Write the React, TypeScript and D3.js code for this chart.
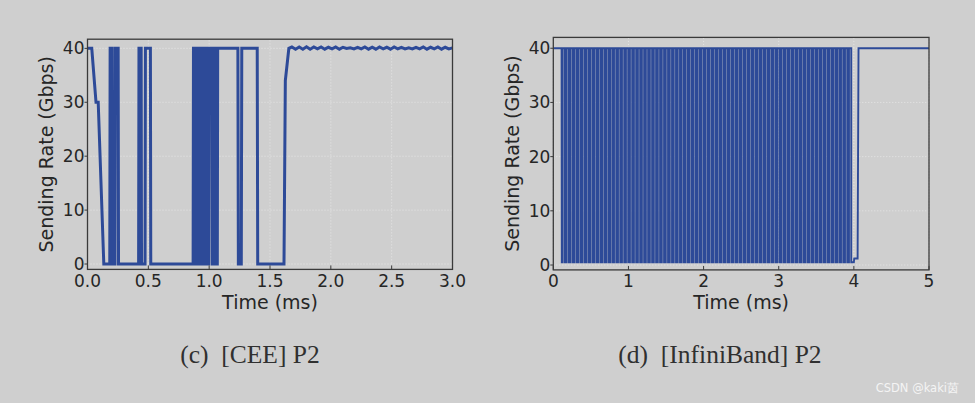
import * as d3 from 'd3';

// (c) CEE P2 — time (ms), sending rate (Gbps)
const ceePoints: [number, number][] = [
  [0, 40], [0.035, 40], [0.07, 30], [0.088, 30], [0.134, 0], [0.183, 0],
  [0.186, 40], [0.203, 40], [0.206, 0], [0.226, 0], [0.229, 40], [0.252, 40], [0.255, 0],
  [0.42, 0], [0.423, 40], [0.441, 40], [0.444, 0], [0.473, 0], [0.476, 40], [0.517, 40], [0.52, 0],
  [0.868, 0], [0.871, 40], [0.876, 40], [0.879, 0], [0.884, 0], [0.887, 40], [0.892, 40], [0.895, 0],
  [0.9, 0], [0.903, 40], [0.908, 40], [0.911, 0], [0.916, 0], [0.919, 40], [0.924, 40], [0.927, 0],
  [0.932, 0], [0.935, 40], [0.94, 40], [0.943, 0], [0.948, 0], [0.951, 40], [0.956, 40], [0.959, 0],
  [0.964, 0], [0.967, 40], [0.972, 40], [0.975, 0], [0.98, 0], [0.983, 40], [0.988, 40], [0.991, 0],
  [0.996, 0], [0.999, 40], [1.022, 40], [1.025, 0], [1.037, 0], [1.04, 40], [1.058, 40], [1.061, 0],
  [1.067, 0], [1.07, 40], [1.236, 40], [1.24, 0], [1.264, 0], [1.268, 40], [1.395, 40], [1.399, 0],
  [1.615, 0], [1.626, 34], [1.655, 40],
  [1.68, 40.25], [1.71, 39.85], [1.74, 40.25], [1.77, 39.85], [1.8, 40.3], [1.83, 39.85], [1.86, 40.25],
  [1.89, 39.9], [1.92, 40.25], [1.95, 39.85], [1.98, 40.2], [2.01, 39.9], [2.04, 40.25], [2.07, 39.85],
  [2.1, 40.2], [2.13, 40.0], [2.16, 40.1], [2.19, 39.9], [2.22, 40.2], [2.25, 39.9], [2.28, 40.25],
  [2.31, 39.85], [2.34, 40.2], [2.37, 39.85], [2.4, 40.25], [2.43, 39.9], [2.46, 40.2], [2.49, 39.85],
  [2.52, 40.25], [2.55, 39.9], [2.58, 40.2], [2.61, 39.9], [2.64, 40.1], [2.67, 39.9], [2.7, 40.2],
  [2.73, 39.9], [2.76, 40.25], [2.79, 39.85], [2.82, 40.2], [2.85, 39.9], [2.88, 40.25], [2.91, 39.85],
  [2.94, 40.2], [2.97, 39.9], [3.0, 40.1],
];

// (d) InfiniBand P2
const ibHead: [number, number][] = [[0, 40], [0.11, 40], [0.113, 0.5]];
const ibPulseStarts = [
  0.12, 0.172, 0.225, 0.279, 0.331, 0.384, 0.437, 0.49, 0.543, 0.596, 0.649, 0.702, 0.755,
  0.808, 0.861, 0.914, 0.967, 1.02, 1.073, 1.126, 1.179, 1.232, 1.285, 1.338, 1.391, 1.444,
  1.497, 1.55, 1.603, 1.656, 1.709, 1.762, 1.815, 1.868, 1.921, 1.974, 2.027, 2.08, 2.133,
  2.186, 2.239, 2.292, 2.345, 2.398, 2.451, 2.504, 2.557, 2.61, 2.663, 2.716, 2.769, 2.822,
  2.875, 2.928, 2.981, 3.034, 3.087, 3.14, 3.193, 3.246, 3.299, 3.352, 3.405, 3.458, 3.511,
  3.564, 3.617, 3.67, 3.723, 3.776, 3.829, 3.882, 3.935,
];
const ibPulseOn = 0.03;
const ibPulseHigh = 40;
const ibPulseLow = 0.5;
const ibTail: [number, number][] = [[4.0, 0.5], [4.005, 1.2], [4.05, 1.2], [4.062, 40], [5, 40]];

const ceeXTicks = [0, 0.5, 1.0, 1.5, 2.0, 2.5, 3.0];
const ibXTicks = [0, 1, 2, 3, 4, 5];
const yTicks = [0, 10, 20, 30, 40];

const ibPoints: [number, number][] = [
  ...ibHead,
  ...ibPulseStarts.flatMap((t) => [
    [t, ibPulseLow], [t, ibPulseHigh], [t + ibPulseOn, ibPulseHigh], [t + ibPulseOn, ibPulseLow],
  ] as [number, number][]),
  ...ibTail,
];

const BG = '#cfcfcf';
const INK = '#262626';
const BLUE = '#2d4a98';

type PanelProps = {
  id: string;
  data: [number, number][];
  xDomain: [number, number];
  yDomain: [number, number];
  xRange: [number, number];
  yRange: [number, number];
  xTicks: number[];
  xFmt: (v: number) => string;
  strokeWidth: number;
  yLabelX: number;
};

function Panel({ id, data, xDomain, yDomain, xRange, yRange, xTicks, xFmt, strokeWidth, yLabelX }: PanelProps) {
  const x = d3.scaleLinear().domain(xDomain).range(xRange);
  const y = d3.scaleLinear().domain(yDomain).range(yRange);
  const line = d3.line<[number, number]>().x((d) => x(d[0])).y((d) => y(d[1]));
  const [x0, x1] = xRange;
  const [yb, yt] = yRange;
  return (
    <g>
      <defs>
        <clipPath id={id}>
          <rect x={x0} y={yt} width={x1 - x0} height={yb - yt} />
        </clipPath>
      </defs>
      {yTicks.map((t) => (
        <line key={'gy' + t} x1={x0} x2={x1} y1={y(t)} y2={y(t)} stroke="#e6e6e6" strokeWidth={1} strokeDasharray="1 2" />
      ))}
      {xTicks.map((t) => (
        <line key={'gx' + t} x1={x(t)} x2={x(t)} y1={yb} y2={yt} stroke="#e6e6e6" strokeWidth={1} strokeDasharray="1 2" />
      ))}
      <path d={line(data) || ''} fill="none" stroke={BLUE} strokeWidth={strokeWidth} clipPath={`url(#${id})`} />
      <rect x={x0} y={yt} width={x1 - x0} height={yb - yt} fill="none" stroke="#3a3a3a" strokeWidth={1.3} />
      {yTicks.map((t) => (
        <g key={'ty' + t}>
          <line x1={x0 - 3} x2={x0} y1={y(t)} y2={y(t)} stroke="#3a3a3a" strokeWidth={1} />
          <text x={x0 - 3} y={y(t) + 6} textAnchor="end" fontSize={17} fill={INK}>{t}</text>
        </g>
      ))}
      {xTicks.map((t) => (
        <g key={'tx' + t}>
          <line x1={x(t)} x2={x(t)} y1={yb} y2={yb - 4} stroke="#3a3a3a" strokeWidth={1} />
          <text x={x(t)} y={287} textAnchor="middle" fontSize={17} fill={INK}>{xFmt(t)}</text>
        </g>
      ))}
      <text x={(x0 + x1) / 2} y={309} textAnchor="middle" fontSize={19} fill={INK}>Time (ms)</text>
      <text transform={`translate(${yLabelX},${(yb + yt) / 2}) rotate(-90)`} textAnchor="middle" fontSize={19} fill={INK}>
        Sending Rate (Gbps)
      </text>
    </g>
  );
}

export default function App() {
  return (
    <svg width={975} height={403} style={{ position: 'absolute', left: 0, top: 0 }} fontFamily="'DejaVu Sans', sans-serif">
      <rect width={975} height={403} fill={BG} />
      <Panel
        id="clipc"
        data={ceePoints}
        xDomain={[0, 3]}
        yDomain={[-1, 41.7]}
        xRange={[87.5, 452.5]}
        yRange={[269.4, 39.2]}
        xTicks={ceeXTicks}
        xFmt={d3.format('.1f')}
        strokeWidth={3}
        yLabelX={52.5}
      />
      <Panel
        id="clipd"
        data={ibPoints}
        xDomain={[0, 5]}
        yDomain={[-0.9, 42]}
        xRange={[553.3, 929]}
        yRange={[269.9, 37.4]}
        xTicks={ibXTicks}
        xFmt={d3.format('d')}
        strokeWidth={1.9}
        yLabelX={519}
      />
      <text x={250} y={363} textAnchor="middle" fontSize={25.5} fontFamily="'Liberation Serif', serif" fill="#303030" style={{ whiteSpace: 'pre' }}>
        (c)  [CEE] P2
      </text>
      <text x={720} y={363} textAnchor="middle" fontSize={25.5} fontFamily="'Liberation Serif', serif" fill="#303030" style={{ whiteSpace: 'pre' }}>
        (d)  [InfiniBand] P2
      </text>
      <text x={959} y={392} textAnchor="end" fontSize={11.5} fill="#f4f4f4">CSDN @kaki茵</text>
    </svg>
  );
}
